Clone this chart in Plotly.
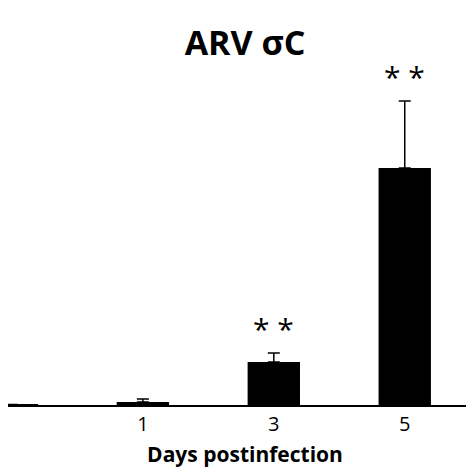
import plotly.graph_objects as go

days = ["0", "1", "3", "5"]
values = [0.5, 3, 43, 237]
errors = [0, 3, 9, 67]
stars = ["", "", "* *", "* *"]

xpos = list(range(len(days)))
fig = go.Figure(go.Bar(
    x=xpos, y=values, width=0.4, marker=dict(color="black", line=dict(width=0)),
    error_y=dict(type="data", symmetric=False, array=errors, arrayminus=[0]*4,
                 color="black", thickness=1.5, width=6),
))
for x, v, e, s in zip(xpos, values, errors, stars):
    if s:
        fig.add_annotation(x=x, y=v + e, text=s, showarrow=False, yanchor="bottom",
                           yshift=2, font=dict(size=30, color="black"))
fig.update_layout(
    width=474, height=474, plot_bgcolor="white", paper_bgcolor="white",
    margin=dict(l=0, r=0, t=53, b=77), showlegend=False,
    font=dict(family="Open Sans", color="black"),
    title=dict(text="<b>ARV σC</b>", x=0.5, xanchor="center", y=0.925, yanchor="middle",
               font=dict(size=34, color="black")),
    xaxis=dict(tickvals=xpos, ticktext=days, range=[-0.03, 3.59], showline=True,
               linecolor="black", linewidth=1.5, ticks="", tickfont=dict(size=20),
               title=dict(text="<b>Days postinfection</b>", font=dict(size=21), standoff=12)),
    yaxis=dict(range=[0, 344], visible=False),
)
fig.write_html("out.html")
